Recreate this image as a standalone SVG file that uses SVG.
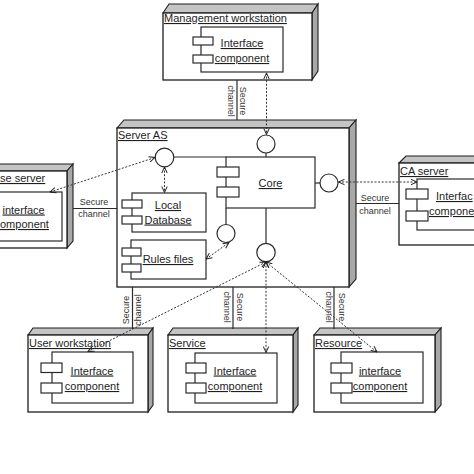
<svg xmlns="http://www.w3.org/2000/svg" width="474" height="474" viewBox="0 0 474 474">
<style>
.front{fill:#fff;stroke:#1e1e1e;stroke-width:1.3}
.top{fill:#c4c4c4;stroke:#1e1e1e;stroke-width:1.1}
.side{fill:#a8a8a8;stroke:#1e1e1e;stroke-width:1.1}
.comp{fill:#fff;stroke:#2a2a2a;stroke-width:1.2}
.port{fill:#fff;stroke:#2a2a2a;stroke-width:1.2}
.ln{fill:none;stroke:#2a2a2a;stroke-width:1.2}
.dash{fill:none;stroke:#333;stroke-width:1;stroke-dasharray:2 1.6;marker-start:url(#ah);marker-end:url(#ah)}
.lbl{font-family:"Liberation Sans",Arial,sans-serif;font-size:11px;fill:#1e1e1e;text-decoration:underline}
.ct{font-family:"Liberation Sans",Arial,sans-serif;font-size:11px;fill:#1e1e1e;text-decoration:underline;text-anchor:middle}
.sc{font-family:"Liberation Sans",Arial,sans-serif;font-size:9px;fill:#333;text-anchor:middle}
</style>
<defs>
<marker id="ah" viewBox="0 0 7 7" refX="6.5" refY="3.5" markerWidth="7" markerHeight="7" markerUnits="userSpaceOnUse" orient="auto-start-reverse">
<path d="M0.5,0.8 L6.5,3.5 L0.5,6.2" fill="none" stroke="#222" stroke-width="1"/>
</marker>
</defs>
<rect width="474" height="474" fill="#fff"/>

<g id="mgmt">
<polygon class="top" points="163,13 169,4 318,4 312,13"/>
<polygon class="side" points="312,13 318,4 318,71 312,80"/>
<rect class="front" x="163" y="13" width="149" height="67"/>
<text class="lbl" x="164" y="22">Management workstation</text>
<rect class="comp" x="201" y="27" width="82" height="45"/>
<rect class="comp" x="193" y="37" width="20" height="8"/>
<rect class="comp" x="193" y="55" width="20" height="8"/>
<text class="ct" x="242" y="47">Interface</text>
<text class="ct" x="242" y="62">component</text>
</g>

<g id="server-as">
<polygon class="top" points="117,128 124,120 356,120 349,128"/>
<polygon class="side" points="349,128 356,120 356,279 349,287"/>
<rect class="front" x="117" y="128" width="232" height="159"/>
<text class="lbl" x="118" y="139">Server AS</text>
<line class="ln" x1="173.5" y1="157" x2="226" y2="157"/>
<line class="ln" x1="226" y1="208" x2="226" y2="224.5"/>
<line class="ln" x1="266" y1="153" x2="266" y2="157"/>
<line class="ln" x1="315" y1="183" x2="320" y2="183"/>
<line class="ln" x1="266" y1="208" x2="266" y2="243.5"/>
<rect class="comp" x="226" y="157" width="89" height="51"/>
<rect class="comp" x="217" y="167" width="22" height="10"/>
<rect class="comp" x="217" y="187" width="22" height="10"/>
<text class="ct" x="270.5" y="187">Core</text>
<circle class="port" cx="164.5" cy="157.5" r="9.3"/>
<circle class="port" cx="266" cy="144" r="9"/>
<circle class="port" cx="329" cy="183" r="9"/>
<circle class="port" cx="226" cy="233.5" r="9"/>
<circle class="port" cx="266" cy="252.5" r="9.2"/>
<rect class="comp" x="132" y="193" width="74" height="39"/>
<rect class="comp" x="122" y="200" width="20" height="8"/>
<rect class="comp" x="122" y="216" width="20" height="8"/>
<text class="ct" x="168" y="209">Local</text>
<text class="ct" x="168" y="223.5">Database</text>
<rect class="comp" x="131" y="240" width="75" height="39"/>
<rect class="comp" x="122" y="248" width="19" height="8"/>
<rect class="comp" x="122" y="264" width="19" height="8"/>
<text class="ct" x="168" y="263">Rules files</text>
</g>

<g id="left-server">
<polygon class="top" points="-10,171 -4,164 73,164 67,171"/>
<polygon class="side" points="67,171 73,164 73,241 67,248"/>
<rect class="front" x="-10" y="171" width="77" height="77"/>
<text class="lbl" x="0" y="182">se server</text>
<rect class="comp" x="-10" y="192" width="72" height="49"/>
<text class="lbl" x="2.5" y="213.5">interface</text>
<text class="lbl" x="0" y="228">omponent</text>
</g>

<g id="ca-server">
<polygon class="top" points="399,163 406,156 490,156 483,163"/>
<rect class="front" x="399" y="163" width="90" height="82"/>
<text class="lbl" x="400" y="175">CA server</text>
<rect class="comp" x="417" y="179" width="70" height="51"/>
<rect class="comp" x="406" y="189" width="22" height="10"/>
<rect class="comp" x="406" y="211" width="22" height="10"/>
<text class="lbl" x="436" y="200">Interfac</text>
<text class="lbl" x="429" y="215">compone</text>
</g>

<g id="user-workstation">
<polygon class="top" points="28,335 33,328 153,328 148,335"/>
<polygon class="side" points="148,335 153,328 153,405 148,412"/>
<rect class="front" x="28" y="335" width="120" height="77"/>
<text class="lbl" x="29" y="347">User workstation</text>
<rect class="comp" x="52" y="352" width="81" height="51"/>
<rect class="comp" x="41" y="363" width="21" height="9.5"/>
<rect class="comp" x="41" y="383" width="21" height="10"/>
<text class="ct" x="92" y="374.5">Interface</text>
<text class="ct" x="92" y="390">component</text>
</g>

<g id="service">
<polygon class="top" points="168,335 173,328 298,328 293,335"/>
<polygon class="side" points="293,335 298,328 298,405 293,412"/>
<rect class="front" x="168" y="335" width="125" height="77"/>
<text class="lbl" x="169" y="347">Service</text>
<rect class="comp" x="195" y="353" width="82" height="50"/>
<rect class="comp" x="186" y="363" width="20" height="10"/>
<rect class="comp" x="186" y="383" width="20" height="10"/>
<text class="ct" x="235" y="374.5">Interface</text>
<text class="ct" x="235" y="390">component</text>
</g>

<g id="resource">
<polygon class="top" points="314,335 320,328 441,328 435,335"/>
<polygon class="side" points="435,335 441,328 441,405 435,412"/>
<rect class="front" x="314" y="335" width="121" height="77"/>
<text class="lbl" x="315" y="347">Resource</text>
<rect class="comp" x="341" y="352" width="82" height="51"/>
<rect class="comp" x="331" y="363" width="21" height="10"/>
<rect class="comp" x="331" y="383" width="21" height="10"/>
<text class="ct" x="380" y="374.5">interface</text>
<text class="ct" x="380" y="390">component</text>
</g>

<g id="connectors">
<line class="ln" x1="237" y1="80" x2="237" y2="120"/>
<text class="sc" transform="translate(240,101) rotate(90)">Secure</text>
<text class="sc" transform="translate(228,101) rotate(90)">channel</text>
<line class="ln" x1="73" y1="208.5" x2="117" y2="208.5"/>
<text class="sc" x="94" y="205">Secure</text>
<text class="sc" x="94" y="216.5">channel</text>
<line class="ln" x1="356" y1="203.5" x2="399" y2="203.5"/>
<text class="sc" x="375" y="200.5">Secure</text>
<text class="sc" x="375" y="214">channel</text>
<line class="ln" x1="132.5" y1="287" x2="132.5" y2="329"/>
<text class="sc" transform="translate(129,310) rotate(-90)">Secure</text>
<text class="sc" transform="translate(140.5,310) rotate(-90)">channel</text>
<line class="ln" x1="233" y1="287" x2="233" y2="329"/>
<text class="sc" transform="translate(237,307) rotate(90)">Secure</text>
<text class="sc" transform="translate(224,307) rotate(90)">channel</text>
<line class="ln" x1="334" y1="287" x2="334" y2="329"/>
<text class="sc" transform="translate(338.5,307) rotate(90)">Secure</text>
<text class="sc" transform="translate(326,307) rotate(90)">channel</text>
<line class="dash" x1="266.5" y1="73" x2="266.5" y2="134.5"/>
<line class="dash" x1="50" y1="192" x2="155" y2="157.5"/>
<line class="dash" x1="164.5" y1="167" x2="164.5" y2="192.5"/>
<line class="dash" x1="206" y1="259" x2="229" y2="242.5"/>
<line class="dash" x1="338.5" y1="182" x2="417" y2="182"/>
<line class="dash" x1="266" y1="262" x2="88" y2="351.5"/>
<line class="dash" x1="266" y1="262" x2="266" y2="352.5"/>
<line class="dash" x1="266" y1="262" x2="377" y2="352"/>
</g>
</svg>
